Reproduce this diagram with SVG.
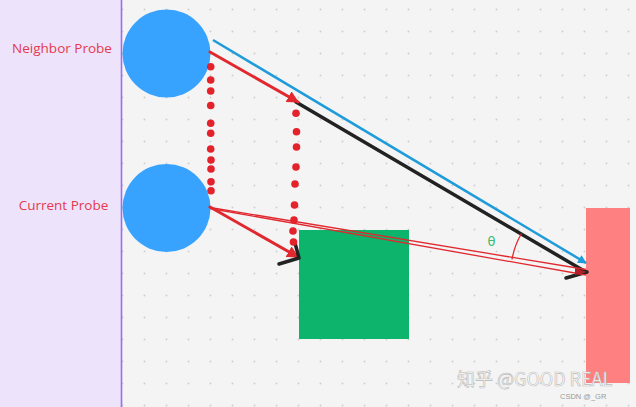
<svg xmlns="http://www.w3.org/2000/svg" width="636" height="407" viewBox="0 0 636 407">
<defs>
<style>
.lbl{font-family:"Open Sans","Noto Sans",sans-serif;font-size:13.5px;fill:#E5394B;text-anchor:middle}
.probe{fill:#38A3FF}
.dot{fill:#E4222C}
.red{stroke:#E0282E;fill:none;stroke-linecap:round}
.thin{stroke:#E0282E;fill:none;stroke-width:1.3}
.blk{stroke:#222;fill:none;stroke-width:3.5;stroke-linecap:round;stroke-linejoin:round}
.blue{stroke:#1E9BDA;fill:none;stroke-width:2.5}
</style>
<pattern id="grid" x="0" y="0" width="22" height="22" patternUnits="userSpaceOnUse">
<circle cx="12.5" cy="9.5" r="1" fill="#CFCFCF"/>
</pattern>
<marker id="ahRed" viewBox="0 0 10 10" refX="9" refY="5" markerWidth="4" markerHeight="4" orient="auto" markerUnits="strokeWidth">
<path d="M0,0 L10,5 L0,10 z" fill="#E0282E"/>
</marker>
<marker id="ahBlue" viewBox="0 0 10 10" refX="9" refY="5" markerWidth="4" markerHeight="3.5" orient="auto" markerUnits="strokeWidth">
<path d="M0,0 L10,5 L0,10 z" fill="#1E9BDA"/>
</marker>
</defs>
<rect x="0" y="0" width="636" height="407" fill="#F4F4F4"/>
<rect x="122" y="0" width="514" height="407" fill="url(#grid)"/>
<rect id="lane" x="0" y="0" width="121" height="407" fill="#EDE4FC"/>
<line x1="121.5" y1="0" x2="121.5" y2="407" stroke="#9D6DEF" stroke-width="1.6"/>
<text class="lbl" x="62" y="53">Neighbor Probe</text>
<text class="lbl" x="63.5" y="210">Current Probe</text>

<g id="neighbor-probe"><circle class="probe" cx="166.5" cy="53.5" r="44"/></g>
<g id="current-probe"><circle class="probe" cx="166.5" cy="208" r="44"/></g>
<g id="green-box"><rect x="299" y="230" width="110" height="109" fill="#0DB56C"/></g>
<g id="target"><rect x="586" y="208" width="44" height="175" fill="#FF8080"/></g>

<g id="connectors">
<line class="blue" x1="213" y1="40" x2="586" y2="263" marker-end="url(#ahBlue)"/>
<line class="blk" x1="296" y1="102" x2="586" y2="272"/>
<polyline class="blk" points="566,278 587,272"/>
<line class="red" stroke-width="3" x1="210" y1="52" x2="298" y2="102" marker-end="url(#ahRed)"/>
<line class="red" stroke-width="3" x1="210" y1="207" x2="298" y2="257" marker-end="url(#ahRed)"/>
<polyline class="blk" points="279,264 299,258 295,243"/>
<line class="thin" x1="210" y1="207.5" x2="586" y2="269.5"/>
<line class="thin" x1="210" y1="208.5" x2="586" y2="275"/>
<path d="M575,268 L587,272 L575,275 z" fill="#B0202A"/>
<path class="thin" d="M512,259.5 A76,76 0 0 1 521.5,233.5"/>
<g class="dot">
<circle cx="210.7" cy="66.7" r="3.8"/><circle cx="210.7" cy="80" r="3.8"/><circle cx="210.7" cy="91" r="3.8"/><circle cx="210.7" cy="105.5" r="3.8"/><circle cx="210.7" cy="123.3" r="3.8"/><circle cx="210.7" cy="133.3" r="3.8"/><circle cx="210.7" cy="149" r="3.8"/><circle cx="211" cy="160" r="3.8"/><circle cx="211" cy="169" r="3.8"/><circle cx="211" cy="181.7" r="3.8"/><circle cx="211" cy="190.7" r="3.8"/>
<circle cx="296" cy="113.3" r="3.8"/><circle cx="296.5" cy="131.7" r="3.8"/><circle cx="296.5" cy="147" r="3.8"/><circle cx="296" cy="167" r="3.8"/><circle cx="295" cy="184" r="3.8"/><circle cx="294.5" cy="205" r="3.8"/><circle cx="294" cy="220" r="3.8"/><circle cx="293" cy="231" r="3.8"/><circle cx="293.5" cy="242" r="3.8"/>
</g>
</g>
<text x="491.5" y="246" font-family="'DejaVu Sans',sans-serif" font-size="13" fill="#3DBB6E" text-anchor="middle">θ</text>
<text x="457" y="386" font-family="'Noto Sans CJK SC','Noto Sans',sans-serif" font-size="18" fill="#FFFFFF" stroke="#B8B8B8" stroke-width="0.6">知乎 @GOOD REAL</text>
<text x="560" y="399" font-family="'Liberation Sans',sans-serif" font-size="7.5" fill="#9A9A9A">CSDN @_GR</text>
</svg>
